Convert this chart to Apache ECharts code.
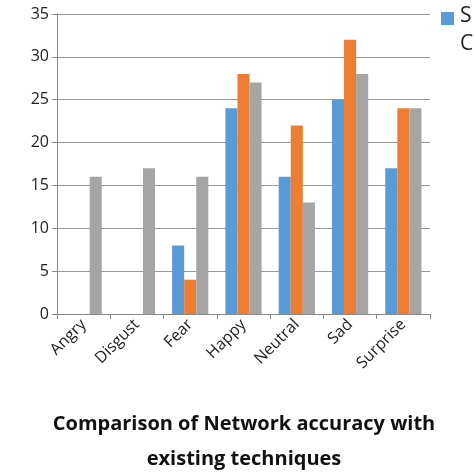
<!DOCTYPE html><html><head><meta charset="utf-8"><script src="https://cdn.jsdelivr.net/npm/echarts@6/dist/echarts.min.js"></script>
<style>html,body{margin:0;background:#fff}#c{width:474px;height:474px}</style></head><body><div id="c"></div><script>
const categories=['Angry','Disgust','Fear','Happy','Neutral','Sad','Surprise'];
const s1=[0,0,8,24,16,25,17];
const s2=[0,0,4,28,22,32,24];
const s3=[16,17,16,27,13,28,24];
const yTicks=[0,5,10,15,20,25,30,35];
const c=echarts.init(document.getElementById('c'));
const F='"Open Sans", "Liberation Sans", sans-serif';
c.setOption({
 animation:false,
 grid:{left:57,right:44,top:14,bottom:160},
 xAxis:{type:'category',data:categories,axisLine:{lineStyle:{color:'#888'}},axisTick:{show:true,lineStyle:{color:'#888'}},
  axisLabel:{rotate:45,fontSize:16,color:'#222',fontFamily:F,interval:0,margin:8}},
 yAxis:{type:'value',min:0,max:35,interval:5,axisLine:{show:true,lineStyle:{color:'#888'}},axisTick:{show:true,lineStyle:{color:'#888'}},
  splitLine:{lineStyle:{color:'#999'}},axisLabel:{fontSize:16,color:'#222',fontFamily:F,formatter:v=>yTicks.includes(v)?String(v):''}},
 series:[
  {type:'bar',data:s1,itemStyle:{color:'#5B9BD5'},barGap:'0%',barCategoryGap:'32%'},
  {type:'bar',data:s2,itemStyle:{color:'#ED7D31'}},
  {type:'bar',data:s3,itemStyle:{color:'#A5A5A5'}}
 ],
 graphic:[
  {type:'rect',x:441,y:12,shape:{width:13,height:13},style:{fill:'#5B9BD5'}},
  {type:'text',x:460,y:6,style:{text:'S',fontSize:21,fill:'#222',fontFamily:F}},
  {type:'text',x:460,y:34,style:{text:'C',fontSize:21,fill:'#222',fontFamily:F}},
  {type:'text',x:244,y:407,style:{text:'Comparison of Network accuracy with\nexisting techniques',fontSize:20,fontWeight:'bold',fill:'#111',fontFamily:F,textAlign:'center',lineHeight:35}}
 ]
});
</script></body></html>
